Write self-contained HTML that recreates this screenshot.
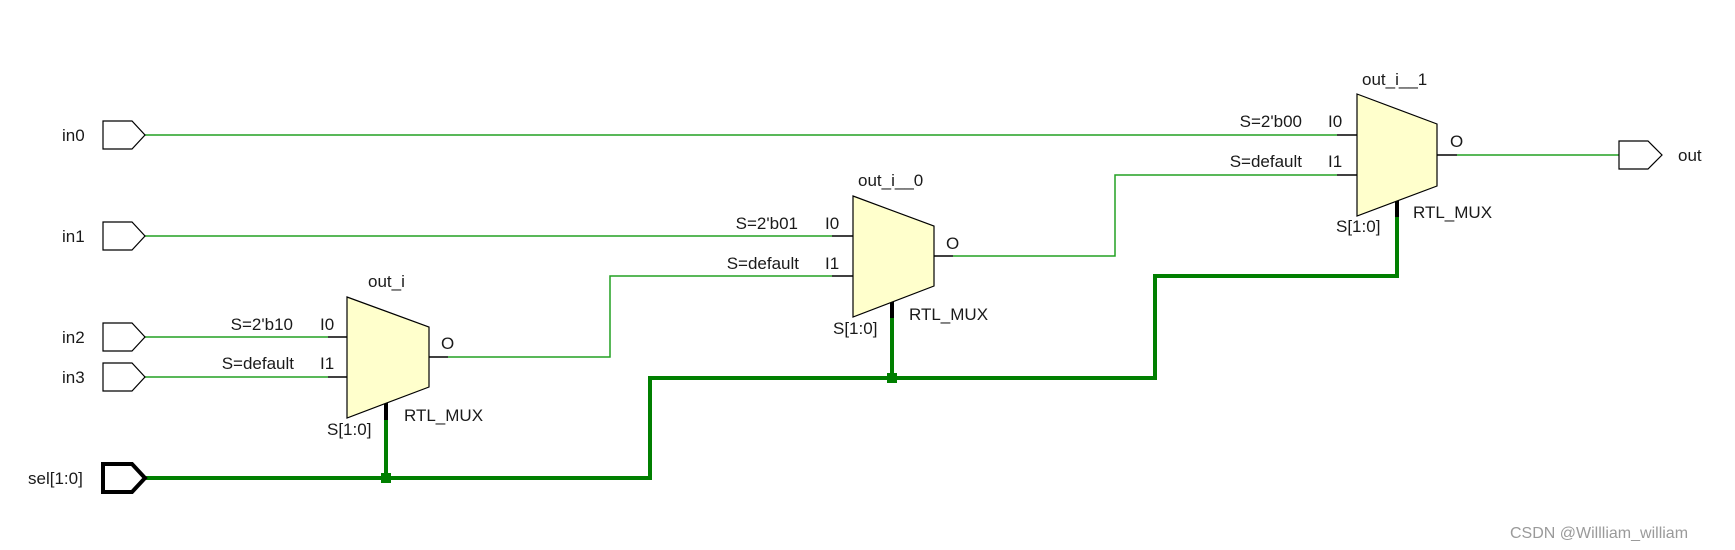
<!DOCTYPE html>
<html><head><meta charset="utf-8"><style>
html,body{margin:0;padding:0;background:#fff;}
svg{display:block;}
text{font-family:"Liberation Sans",Arial,sans-serif;font-size:17px;fill:#1a1a1a;}
</style></head><body>
<svg width="1735" height="550" viewBox="0 0 1735 550" xmlns="http://www.w3.org/2000/svg">
<g fill="none" stroke="#22a022" stroke-width="1.5">
<polyline points="145,135 1337,135"/>
<polyline points="145,236 832,236"/>
<polyline points="145,337 328,337"/>
<polyline points="145,377 328,377"/>
<polyline points="448,357 610,357 610,276 832,276"/>
<polyline points="953,256 1115,256 1115,175 1337,175"/>
<polyline points="1457,155 1619,155"/>
</g>
<g fill="none" stroke="#007f00" stroke-width="4">
<polyline points="145,478 650,478 650,378 1155,378 1155,276 1397,276 1397,215"/>
<line x1="386" y1="478" x2="386" y2="418"/>
<line x1="892" y1="378" x2="892" y2="316"/>
</g>
<g fill="#007f00">
<rect x="381" y="473" width="10" height="10"/>
<rect x="887" y="373" width="10" height="10"/>
</g>
<g stroke="#000" stroke-width="1.5">
<line x1="328" y1="337" x2="347" y2="337"/><line x1="328" y1="377" x2="347" y2="377"/><line x1="429" y1="357" x2="448" y2="357"/>
<line x1="832" y1="236" x2="853" y2="236"/><line x1="832" y1="276" x2="853" y2="276"/><line x1="934" y1="256" x2="953" y2="256"/>
<line x1="1337" y1="135" x2="1357" y2="135"/><line x1="1337" y1="175" x2="1357" y2="175"/><line x1="1437" y1="155" x2="1457" y2="155"/>
</g>
<g stroke="#000" stroke-width="4">
<line x1="386" y1="402" x2="386" y2="420"/>
<line x1="892" y1="300" x2="892" y2="318"/>
<line x1="1397" y1="199" x2="1397" y2="217"/>
</g>
<g fill="#ffffcc" stroke="#000" stroke-width="1.2">
<polygon points="347,297 429,327 429,387 347,418"/>
<polygon points="853,196 934,226 934,286 853,317"/>
<polygon points="1357,94 1437,124 1437,186 1357,216"/>
</g>
<g fill="#fff" stroke="#000" stroke-width="1.2">
<polygon points="103,121 132,121 145,135 132,149 103,149"/>
<polygon points="103,222 132,222 145,236 132,250 103,250"/>
<polygon points="103,323 132,323 145,337 132,351 103,351"/>
<polygon points="103,363 132,363 145,377 132,391 103,391"/>
<polygon points="1619,141 1648,141 1662,155 1648,169 1619,169"/>
</g>
<polygon points="103,464 132,464 145,478 132,492 103,492" fill="#fff" stroke="#000" stroke-width="4"/>
<text x="62" y="141">in0</text>
<text x="62" y="242">in1</text>
<text x="62" y="343">in2</text>
<text x="62" y="383">in3</text>
<text x="28" y="484">sel[1:0]</text>
<text x="1678" y="161">out</text>
<text x="368" y="287">out_i</text>
<text x="293" y="330" text-anchor="end">S=2'b10</text>
<text x="320" y="330">I0</text>
<text x="294" y="369" text-anchor="end">S=default</text>
<text x="320" y="369">I1</text>
<text x="441" y="349">O</text>
<text x="327" y="435">S[1:0]</text>
<text x="404" y="421">RTL_MUX</text>
<text x="858" y="186">out_i__0</text>
<text x="798" y="229" text-anchor="end">S=2'b01</text>
<text x="825" y="229">I0</text>
<text x="799" y="269" text-anchor="end">S=default</text>
<text x="825" y="269">I1</text>
<text x="946" y="249">O</text>
<text x="833" y="334">S[1:0]</text>
<text x="909" y="320">RTL_MUX</text>
<text x="1362" y="85">out_i__1</text>
<text x="1302" y="127" text-anchor="end">S=2'b00</text>
<text x="1328" y="127">I0</text>
<text x="1302" y="167" text-anchor="end">S=default</text>
<text x="1328" y="167">I1</text>
<text x="1450" y="147">O</text>
<text x="1336" y="232">S[1:0]</text>
<text x="1413" y="218">RTL_MUX</text>
<text x="1510" y="538" style="font-size:16px;fill:#9a9a9a">CSDN @Willliam_william</text>
</svg>
</body></html>
